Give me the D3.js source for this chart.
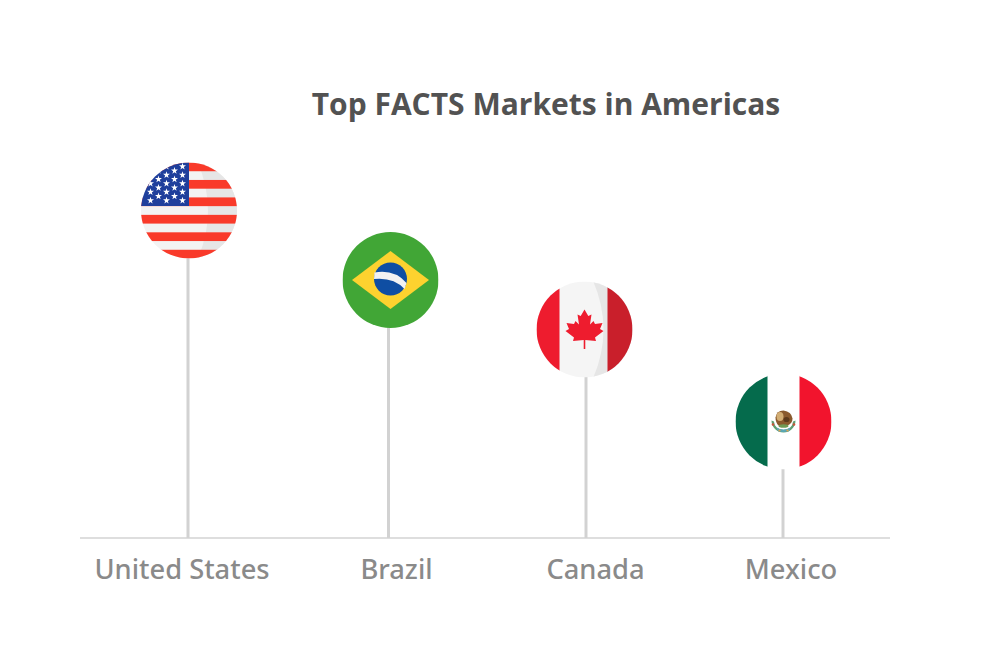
<!DOCTYPE html>
<html>
<head>
<meta charset="utf-8">
<script src="https://cdn.jsdelivr.net/npm/d3@7"></script>
<style>
  html, body { margin: 0; padding: 0; background: #fff; }
  svg { display: block; }
</style>
</head>
<body>
<svg id="chart" width="1000" height="656"></svg>
<script>
const titleText = "Top FACTS Markets in Americas";
const countries = ["United States", "Brazil", "Canada", "Mexico"];
const marketValues = [327.5, 258, 208.5, 116.5];

const svg = d3.select("#chart");
const baseY = 538;

const yScale = d3.scaleLinear().domain([0, 538]).range([baseY, 0]);
const stemX = d3.scaleOrdinal().domain(countries).range([188, 388.5, 586, 783]);
const headX = d3.scaleOrdinal().domain(countries).range([189, 390.5, 584.5, 783.5]);
const labelX = d3.scaleOrdinal().domain(countries).range([181.5, 396, 595, 790.5]);

const rows = countries.map((name, i) => ({ name, value: marketValues[i] }));
const R = 48;

// Title
svg.append("text")
  .attr("x", 546).attr("y", 115)
  .attr("text-anchor", "middle")
  .attr("font-family", "'Open Sans', sans-serif")
  .attr("font-weight", 700)
  .attr("font-size", 30)
  .attr("fill", "#525252")
  .text(titleText);

// Baseline and category labels
svg.append("line")
  .attr("x1", 80).attr("x2", 890)
  .attr("y1", baseY).attr("y2", baseY)
  .attr("stroke", "#dedede").attr("stroke-width", 2);

const axis = svg.append("g")
  .attr("transform", `translate(0,${baseY})`)
  .call(d3.axisBottom(labelX).tickSize(0).tickPadding(22));
axis.select(".domain").remove();
axis.selectAll("text")
  .attr("font-family", "'Noto Sans', sans-serif")
  .attr("font-size", 27.3)
  .attr("font-weight", 500)
  .attr("fill", "#8a8a8a");

// Stems
svg.selectAll("line.stem").data(rows).join("line")
  .attr("class", "stem")
  .attr("x1", d => stemX(d.name)).attr("x2", d => stemX(d.name))
  .attr("y1", baseY).attr("y2", d => yScale(d.value))
  .attr("stroke", "#d2d2d2").attr("stroke-width", 3);

// Circular flag heads
const defs = svg.append("defs");
defs.append("clipPath").attr("id", "disc").append("circle").attr("r", R);

const heads = svg.selectAll("g.head").data(rows).join("g")
  .attr("class", "head")
  .attr("transform", d => `translate(${headX(d.name)},${yScale(d.value)})`);

const flags = {
  "United States": drawUSA,
  "Brazil": drawBrazil,
  "Canada": drawCanada,
  "Mexico": drawMexico
};
heads.each(function (d) {
  const g = d3.select(this).append("g").attr("clip-path", "url(#disc)");
  flags[d.name](g);
});

// Soft fold across the pale part of a flag
function fold(g, fill) {
  g.append("path")
    .attr("d", `M8,-50 Q30,0 8,50 L60,50 L60,-50 Z`)
    .attr("fill", fill);
}

function drawUSA(g) {
  g.append("rect").attr("x", -R).attr("y", -R).attr("width", 2 * R).attr("height", 2 * R).attr("fill", "#f3f3f3");
  fold(g, "#e6e6e6");
  const h = 2 * R / 11;
  d3.range(0, 11, 2).forEach(i => {
    g.append("rect").attr("x", -R).attr("y", -R + i * h).attr("width", 2 * R).attr("height", h).attr("fill", "#f93a2a");
  });
  g.append("rect").attr("x", -R).attr("y", -R).attr("width", R).attr("height", 43.5).attr("fill", "#1f3f9c");
  const star = d3.symbol().type(d3.symbolStar).size(15);
  d3.range(0, 9).forEach(r => {
    d3.range(0, 5).forEach(c => {
      if ((r + c) % 2 === 0) {
        g.append("path")
          .attr("d", star)
          .attr("fill", "#fff")
          .attr("transform", `translate(${-6.5 - c * 8},${-44 + r * 4.25})`);
      }
    });
  });
}

function drawBrazil(g) {
  g.append("rect").attr("x", -R).attr("y", -R).attr("width", 2 * R).attr("height", 2 * R).attr("fill", "#41a636");
  g.append("path").attr("d", "M-38.5,0 L0,-29 L38.5,0 L0,29 Z").attr("fill", "#fdd22f");
  g.append("circle").attr("cy", -1).attr("r", 16.5).attr("fill", "#0f4ea3");
  g.append("path")
    .attr("d", "M-16,-7.5 Q4,-11 16,3 L14,9 Q3,-3 -16.5,-1 Z")
    .attr("fill", "#f2f2f2");
}

function drawCanada(g) {
  g.append("rect").attr("x", -R).attr("y", -R).attr("width", 2 * R).attr("height", 2 * R).attr("fill", "#f5f5f5");
  fold(g, "#e6e6e6");
  g.append("rect").attr("x", -R).attr("y", -R).attr("width", 23).attr("height", 2 * R).attr("fill", "#ee1c2e");
  g.append("rect").attr("x", 23).attr("y", -R).attr("width", 25).attr("height", 2 * R).attr("fill", "#c91f2b");
  const half = [[0, -20], [3.8, -13.5], [7, -15], [5.5, -5], [9, -8.5], [10.5, -5.5], [18, -6.5],
                [15.5, -0.5], [19, 1.5], [10.5, 8], [11.5, 11.5], [0.8, 10.5], [0.8, 19.5]];
  const outline = half.concat(half.slice().reverse().map(([x, y]) => [-x, y]));
  g.append("path").attr("d", d3.line()(outline) + "Z").attr("fill", "#ee1c2e");
}

function drawMexico(g) {
  g.append("rect").attr("x", -R).attr("y", -R).attr("width", 2 * R).attr("height", 2 * R).attr("fill", "#fff");
  g.append("rect").attr("x", -R).attr("y", -R).attr("width", 32).attr("height", 2 * R).attr("fill", "#056b4c");
  g.append("rect").attr("x", 16).attr("y", -R).attr("width", 32).attr("height", 2 * R).attr("fill", "#f2142d");
  // Coat of arms: eagle, cactus and wreath
  g.append("path").attr("d", "M-12,-1 A12,12 0 0 0 12,-1 L9.5,0 A9.5,8.5 0 0 1 -9.5,0 Z").attr("fill", "#5f9f70");
  g.append("path").attr("d", "M-7,6 Q0,10 7,6 L6,9.5 Q0,11.5 -6,9.5 Z").attr("fill", "#5aa6b5");
  g.append("path").attr("d", "M-8,-4 Q-7,-11 0,-11 Q8,-10 9,-3 Q9,2 4,4 L-5,4 Q-8,1 -8,-4 Z").attr("fill", "#8a5a2e");
  g.append("ellipse").attr("cx", -3.5).attr("cy", -5).attr("rx", 3.5).attr("ry", 4.5).attr("fill", "#d2ad74");
  g.append("ellipse").attr("cx", 3).attr("cy", -2).attr("rx", 3).attr("ry", 2.6).attr("fill", "#5c3a1c");
  g.append("ellipse").attr("cx", 0).attr("cy", 4.5).attr("rx", 5).attr("ry", 1.8).attr("fill", "#6f9a55");
  g.append("circle").attr("cx", -10.5).attr("cy", 3).attr("r", 1.3).attr("fill", "#c9543a");
  g.append("circle").attr("cx", 10.5).attr("cy", 3).attr("r", 1.3).attr("fill", "#c9543a");
  g.append("circle").attr("cx", -4).attr("cy", 9).attr("r", 1.1).attr("fill", "#e0a24a");
  g.append("circle").attr("cx", 4).attr("cy", 9).attr("r", 1.1).attr("fill", "#e0a24a");
}
</script>
</body>
</html>
